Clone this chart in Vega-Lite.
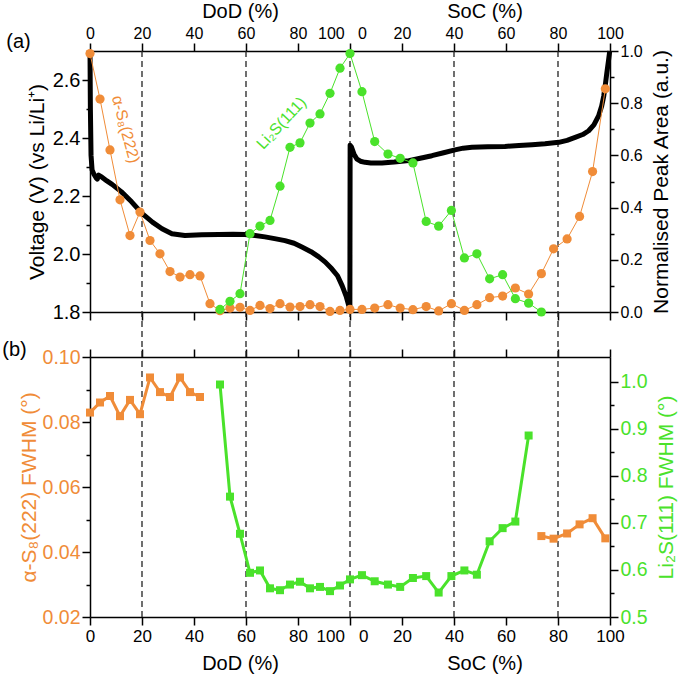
{
  "$schema": "https://vega.github.io/schema/vega-lite/v6.json",
  "padding": {"left": 1, "top": 1, "right": 1, "bottom": 1},
  "width": 520,
  "height": 566,
  "datasets": {
    "dod_lines": [{"X": 20}, {"X": 60}],
    "soc_lines": [{"X": 100}, {"X": 140}, {"X": 180}],
    "voltage": [
      {"X": 0, "V": 2.70}, {"X": 0.15, "V": 2.50}, {"X": 0.4, "V": 2.34}, {"X": 0.8, "V": 2.29},
      {"X": 1.5, "V": 2.275}, {"X": 2.4, "V": 2.262}, {"X": 2.8, "V": 2.258}, {"X": 3.3, "V": 2.272},
      {"X": 4.6, "V": 2.265}, {"X": 6.5, "V": 2.252}, {"X": 8.5, "V": 2.24}, {"X": 12, "V": 2.215},
      {"X": 16, "V": 2.18}, {"X": 20, "V": 2.14}, {"X": 24, "V": 2.11}, {"X": 27.7, "V": 2.087},
      {"X": 31.5, "V": 2.07}, {"X": 36.5, "V": 2.064}, {"X": 43, "V": 2.066}, {"X": 49.6, "V": 2.067},
      {"X": 55, "V": 2.068}, {"X": 59.6, "V": 2.067}, {"X": 63.5, "V": 2.064}, {"X": 67.3, "V": 2.059},
      {"X": 71, "V": 2.053}, {"X": 75, "V": 2.046}, {"X": 78.5, "V": 2.037}, {"X": 81.5, "V": 2.024},
      {"X": 85, "V": 2.008}, {"X": 88, "V": 1.99}, {"X": 90.5, "V": 1.972}, {"X": 93, "V": 1.949},
      {"X": 95.2, "V": 1.925}, {"X": 97, "V": 1.89}, {"X": 98.5, "V": 1.855}, {"X": 99.6, "V": 1.82},
      {"X": 99.95, "V": 1.805}, {"X": 100.05, "V": 2.375}, {"X": 100.5, "V": 2.37}, {"X": 101.5, "V": 2.345},
      {"X": 102.7, "V": 2.327}, {"X": 104, "V": 2.32}, {"X": 105.8, "V": 2.316}, {"X": 108, "V": 2.314},
      {"X": 112.3, "V": 2.314}, {"X": 117, "V": 2.317}, {"X": 122.6, "V": 2.322}, {"X": 127, "V": 2.33},
      {"X": 131.5, "V": 2.339}, {"X": 136, "V": 2.349}, {"X": 140.4, "V": 2.359}, {"X": 143.5, "V": 2.365},
      {"X": 146.9, "V": 2.368}, {"X": 153, "V": 2.37}, {"X": 159.6, "V": 2.371}, {"X": 165, "V": 2.374},
      {"X": 170, "V": 2.377}, {"X": 175, "V": 2.38}, {"X": 180.3, "V": 2.385}, {"X": 183.5, "V": 2.392},
      {"X": 186.6, "V": 2.402}, {"X": 189.5, "V": 2.412}, {"X": 191.8, "V": 2.425}, {"X": 193.8, "V": 2.445},
      {"X": 195.6, "V": 2.476}, {"X": 196.8, "V": 2.51}, {"X": 197.6, "V": 2.545}, {"X": 198.3, "V": 2.59},
      {"X": 198.8, "V": 2.626}, {"X": 199.4, "V": 2.665}, {"X": 199.9, "V": 2.70}
    ],
    "peak": [
      {"X": 0, "A": 0.99, "phase": "S8"}, {"X": 3.85, "A": 0.816, "phase": "S8"}, {"X": 7.69, "A": 0.621, "phase": "S8"},
      {"X": 11.54, "A": 0.43, "phase": "S8"}, {"X": 15.38, "A": 0.293, "phase": "S8"}, {"X": 19.23, "A": 0.383, "phase": "S8"},
      {"X": 23.08, "A": 0.274, "phase": "S8"}, {"X": 26.92, "A": 0.223, "phase": "S8"}, {"X": 30.77, "A": 0.155, "phase": "S8"},
      {"X": 34.62, "A": 0.134, "phase": "S8"}, {"X": 38.46, "A": 0.143, "phase": "S8"}, {"X": 42.31, "A": 0.138, "phase": "S8"},
      {"X": 46.15, "A": 0.032, "phase": "S8"}, {"X": 50.0, "A": 0.005, "phase": "S8"}, {"X": 53.85, "A": 0.015, "phase": "S8"},
      {"X": 57.69, "A": 0.018, "phase": "S8"}, {"X": 61.54, "A": 0.006, "phase": "S8"}, {"X": 65.38, "A": 0.025, "phase": "S8"},
      {"X": 69.23, "A": 0.013, "phase": "S8"}, {"X": 73.08, "A": 0.032, "phase": "S8"}, {"X": 76.92, "A": 0.019, "phase": "S8"},
      {"X": 80.77, "A": 0.021, "phase": "S8"}, {"X": 84.62, "A": 0.028, "phase": "S8"}, {"X": 88.46, "A": 0.021, "phase": "S8"},
      {"X": 92.31, "A": 0.002, "phase": "S8"}, {"X": 96.15, "A": 0.006, "phase": "S8"}, {"X": 100, "A": 0.01, "phase": "S8"},
      {"X": 104.6, "A": 0.01, "phase": "S8"}, {"X": 109.5, "A": 0.015, "phase": "S8"}, {"X": 114.6, "A": 0.028, "phase": "S8"},
      {"X": 119.3, "A": 0.015, "phase": "S8"}, {"X": 124.2, "A": 0.009, "phase": "S8"}, {"X": 129.3, "A": 0.021, "phase": "S8"},
      {"X": 134.1, "A": 0.004, "phase": "S8"}, {"X": 139.0, "A": 0.032, "phase": "S8"}, {"X": 144.0, "A": 0.006, "phase": "S8"},
      {"X": 148.8, "A": 0.028, "phase": "S8"}, {"X": 153.7, "A": 0.055, "phase": "S8"}, {"X": 158.7, "A": 0.061, "phase": "S8"},
      {"X": 163.6, "A": 0.092, "phase": "S8"}, {"X": 168.7, "A": 0.069, "phase": "S8"}, {"X": 173.6, "A": 0.147, "phase": "S8"},
      {"X": 178.3, "A": 0.242, "phase": "S8"}, {"X": 183.5, "A": 0.28, "phase": "S8"}, {"X": 188.3, "A": 0.366, "phase": "S8"},
      {"X": 193.3, "A": 0.538, "phase": "S8"}, {"X": 198.2, "A": 0.855, "phase": "S8"},
      {"X": 50.0, "A": 0.01, "phase": "Li2S"}, {"X": 53.85, "A": 0.041, "phase": "Li2S"}, {"X": 57.69, "A": 0.07, "phase": "Li2S"},
      {"X": 61.54, "A": 0.30, "phase": "Li2S"}, {"X": 65.38, "A": 0.329, "phase": "Li2S"}, {"X": 69.23, "A": 0.351, "phase": "Li2S"},
      {"X": 73.08, "A": 0.482, "phase": "Li2S"}, {"X": 76.92, "A": 0.631, "phase": "Li2S"}, {"X": 80.77, "A": 0.648, "phase": "Li2S"},
      {"X": 84.62, "A": 0.724, "phase": "Li2S"}, {"X": 88.46, "A": 0.759, "phase": "Li2S"}, {"X": 92.31, "A": 0.838, "phase": "Li2S"},
      {"X": 96.15, "A": 0.934, "phase": "Li2S"}, {"X": 100, "A": 0.99, "phase": "Li2S"}, {"X": 104.6, "A": 0.844, "phase": "Li2S"},
      {"X": 109.5, "A": 0.653, "phase": "Li2S"}, {"X": 114.6, "A": 0.605, "phase": "Li2S"}, {"X": 119.3, "A": 0.589, "phase": "Li2S"},
      {"X": 124.2, "A": 0.571, "phase": "Li2S"}, {"X": 129.3, "A": 0.347, "phase": "Li2S"}, {"X": 134.1, "A": 0.329, "phase": "Li2S"},
      {"X": 139.0, "A": 0.389, "phase": "Li2S"}, {"X": 144.0, "A": 0.207, "phase": "Li2S"}, {"X": 148.8, "A": 0.223, "phase": "Li2S"},
      {"X": 153.7, "A": 0.127, "phase": "Li2S"}, {"X": 158.7, "A": 0.143, "phase": "Li2S"}, {"X": 163.6, "A": 0.051, "phase": "Li2S"},
      {"X": 168.7, "A": 0.034, "phase": "Li2S"}, {"X": 173.6, "A": 0.0, "phase": "Li2S"}
    ],
    "fwhm": [
      {"X": 0, "W": 0.0829, "phase": "S8", "seg": "discharge"}, {"X": 3.85, "W": 0.086, "phase": "S8", "seg": "discharge"},
      {"X": 7.69, "W": 0.088, "phase": "S8", "seg": "discharge"}, {"X": 11.54, "W": 0.0818, "phase": "S8", "seg": "discharge"},
      {"X": 15.38, "W": 0.0868, "phase": "S8", "seg": "discharge"}, {"X": 19.23, "W": 0.0824, "phase": "S8", "seg": "discharge"},
      {"X": 23.08, "W": 0.0937, "phase": "S8", "seg": "discharge"}, {"X": 26.92, "W": 0.0892, "phase": "S8", "seg": "discharge"},
      {"X": 30.77, "W": 0.0877, "phase": "S8", "seg": "discharge"}, {"X": 34.62, "W": 0.0937, "phase": "S8", "seg": "discharge"},
      {"X": 38.46, "W": 0.0892, "phase": "S8", "seg": "discharge"}, {"X": 42.31, "W": 0.0877, "phase": "S8", "seg": "discharge"},
      {"X": 173.6, "W": 0.0449, "phase": "S8", "seg": "charge"}, {"X": 178.3, "W": 0.0441, "phase": "S8", "seg": "charge"},
      {"X": 183.5, "W": 0.0457, "phase": "S8", "seg": "charge"}, {"X": 188.3, "W": 0.0485, "phase": "S8", "seg": "charge"},
      {"X": 193.3, "W": 0.0504, "phase": "S8", "seg": "charge"}, {"X": 198.2, "W": 0.0442, "phase": "S8", "seg": "charge"},
      {"X": 50.0, "W": 0.9945, "phase": "Li2S", "seg": "all"}, {"X": 53.85, "W": 0.756, "phase": "Li2S", "seg": "all"},
      {"X": 57.69, "W": 0.677, "phase": "Li2S", "seg": "all"}, {"X": 61.54, "W": 0.594, "phase": "Li2S", "seg": "all"},
      {"X": 65.38, "W": 0.599, "phase": "Li2S", "seg": "all"}, {"X": 69.23, "W": 0.561, "phase": "Li2S", "seg": "all"},
      {"X": 73.08, "W": 0.557, "phase": "Li2S", "seg": "all"}, {"X": 76.92, "W": 0.569, "phase": "Li2S", "seg": "all"},
      {"X": 80.77, "W": 0.575, "phase": "Li2S", "seg": "all"}, {"X": 84.62, "W": 0.561, "phase": "Li2S", "seg": "all"},
      {"X": 88.46, "W": 0.564, "phase": "Li2S", "seg": "all"}, {"X": 92.31, "W": 0.555, "phase": "Li2S", "seg": "all"},
      {"X": 96.15, "W": 0.567, "phase": "Li2S", "seg": "all"}, {"X": 100, "W": 0.58, "phase": "Li2S", "seg": "all"},
      {"X": 104.6, "W": 0.589, "phase": "Li2S", "seg": "all"}, {"X": 109.5, "W": 0.576, "phase": "Li2S", "seg": "all"},
      {"X": 114.6, "W": 0.569, "phase": "Li2S", "seg": "all"}, {"X": 119.3, "W": 0.564, "phase": "Li2S", "seg": "all"},
      {"X": 124.2, "W": 0.583, "phase": "Li2S", "seg": "all"}, {"X": 129.3, "W": 0.587, "phase": "Li2S", "seg": "all"},
      {"X": 134.1, "W": 0.552, "phase": "Li2S", "seg": "all"}, {"X": 139.0, "W": 0.587, "phase": "Li2S", "seg": "all"},
      {"X": 144.0, "W": 0.599, "phase": "Li2S", "seg": "all"}, {"X": 148.8, "W": 0.59, "phase": "Li2S", "seg": "all"},
      {"X": 153.7, "W": 0.661, "phase": "Li2S", "seg": "all"}, {"X": 158.7, "W": 0.689, "phase": "Li2S", "seg": "all"},
      {"X": 163.6, "W": 0.703, "phase": "Li2S", "seg": "all"}, {"X": 168.7, "W": 0.886, "phase": "Li2S", "seg": "all"}
    ]
  },
  "layer": [
    {
      "data": {"name": "dod_lines"},
      "mark": {"type": "rule", "color": "#222", "strokeWidth": 1.3, "strokeDash": [6, 4]},
      "encoding": {
        "x": {
          "field": "X", "type": "quantitative",
          "scale": {"domain": [0, 200], "nice": false, "zero": false},
          "axis": {
            "orient": "top", "values": [0, 20, 40, 60, 80, 100, 120, 140, 160, 180, 200],
            "labelExpr": "datum.value < 100 ? format(datum.value, 'd') : (datum.value == 100 ? '100\u00a0\u00a0\u00a00' : format(datum.value - 100, 'd'))",
            "labelOffset": {"condition": {"test": "datum.value == 100", "value": -8}, "value": 0},
            "labelFontSize": 16, "labelPadding": 2, "labelOverlap": false, "labelFlush": false, "tickSize": 8,
            "title": "DoD (%)", "titleFontSize": 20, "titleX": 150, "titleY": -40,
            "titleBaseline": "middle", "titleAlign": "center"
          }
        }
      }
    },
    {
      "data": {"name": "soc_lines"},
      "mark": {"type": "rule", "color": "#222", "strokeWidth": 1.3, "strokeDash": [6, 4]},
      "encoding": {
        "x": {
          "field": "X", "type": "quantitative",
          "axis": {
            "orient": "top", "domain": false, "ticks": false, "labels": false,
            "title": "SoC (%)", "titleFontSize": 20, "titleX": 394.5, "titleY": -40,
            "titleBaseline": "middle", "titleAlign": "center"
          }
        }
      }
    },
    {
      "data": {"name": "voltage"},
      "mark": {"type": "line", "color": "black", "strokeWidth": 5, "strokeJoin": "round"},
      "encoding": {
        "x": {
          "field": "X", "type": "quantitative",
          "axis": {
            "orient": "bottom", "offset": -305, "values": [0, 20, 40, 60, 80, 100, 120, 140, 160, 180, 200],
            "labels": false, "tickSize": 8,
            "title": "(a)", "titleFontSize": 20, "titleX": -72, "titleY": -271, "titleBaseline": "middle", "titleAlign": "center"
          }
        },
        "y": {
          "field": "V", "type": "quantitative",
          "scale": {"domain": [1.8, 2.7], "range": [261, 0], "nice": false, "zero": false},
          "axis": {
            "orient": "left", "values": [1.8, 1.9, 2.0, 2.1, 2.2, 2.3, 2.4, 2.5, 2.6, 2.7],
            "labelExpr": "round(datum.value * 10) % 2 == 0 ? format(datum.value, '.1f') : ''",
            "tickSize": {"condition": {"test": "round(datum.value * 10) % 2 == 1", "value": 4}, "value": 8},
            "labelFontSize": 20, "labelOverlap": false, "labelFlush": false,
            "title": "Voltage (V) (vs Li/Li⁺)", "titleFontSize": 21, "titlePadding": 5
          }
        }
      }
    },
    {
      "data": {"values": [{"label": "α-S₈(222)"}]},
      "mark": {"type": "text", "color": "#F08C38", "fontSize": 16, "angle": 75, "align": "center", "baseline": "middle"},
      "encoding": {
        "x": {"datum": 13.65, "type": "quantitative", "axis": null},
        "y": {"datum": 2.43, "type": "quantitative", "scale": {"domain": [1.8, 2.7], "range": [261, 0], "nice": false, "zero": false}, "axis": null},
        "text": {"field": "label"}
      }
    },
    {
      "data": {"values": [{"label": "Li₂S(111)"}]},
      "mark": {"type": "text", "color": "#4AE22B", "fontSize": 16, "angle": 313, "align": "center", "baseline": "middle"},
      "encoding": {
        "x": {"datum": 73.65, "type": "quantitative", "axis": null},
        "y": {"datum": 2.451, "type": "quantitative", "scale": {"domain": [1.8, 2.7], "range": [261, 0], "nice": false, "zero": false}, "axis": null},
        "text": {"field": "label"}
      }
    },
    {
      "data": {"name": "peak"},
      "mark": {"type": "line", "strokeWidth": 1},
      "encoding": {
        "x": {
          "field": "X", "type": "quantitative",
          "axis": {
            "orient": "bottom", "values": [0, 20, 40, 60, 80, 100, 120, 140, 160, 180, 200],
            "labelExpr": "datum.value < 100 ? format(datum.value, 'd') : (datum.value == 100 ? '100\u00a0\u00a0\u00a00' : format(datum.value - 100, 'd'))",
            "labelOffset": {"condition": {"test": "datum.value == 100", "value": -8}, "value": 0},
            "labelFontSize": 17, "labelPadding": 3, "labelOverlap": false, "labelFlush": false, "tickSize": 8,
            "title": "DoD (%)", "titleFontSize": 20, "titleX": 150, "titleY": 46,
            "titleBaseline": "middle", "titleAlign": "center"
          }
        },
        "y": {
          "field": "A", "type": "quantitative",
          "scale": {"domain": [0, 1], "range": [261, 0], "nice": false},
          "axis": {
            "orient": "right", "values": [0, 0.1, 0.2, 0.3, 0.4, 0.5, 0.6, 0.7, 0.8, 0.9, 1.0],
            "labelExpr": "round(datum.value * 10) % 2 == 0 ? format(datum.value, '.1f') : ''",
            "tickSize": {"condition": {"test": "round(datum.value * 10) % 2 == 1", "value": 4}, "value": 8},
            "labelFontSize": 16, "labelOverlap": false, "labelFlush": false,
            "title": "Normalised Peak Area (a.u.)", "titleFontSize": 21, "titleAngle": 270, "titleBaseline": "top", "titlePadding": 8
          }
        },
        "color": {
          "field": "phase", "type": "nominal",
          "scale": {"domain": ["S8", "Li2S"], "range": ["#F08C38", "#4AE22B"]},
          "legend": null
        }
      }
    },
    {
      "data": {"name": "peak"},
      "mark": {"type": "point", "filled": true, "size": 85, "opacity": 1},
      "encoding": {
        "x": {
          "field": "X", "type": "quantitative",
          "axis": {
            "orient": "bottom", "domain": false, "ticks": false, "labels": false,
            "title": "SoC (%)", "titleFontSize": 20, "titleX": 394.5, "titleY": 46,
            "titleBaseline": "middle", "titleAlign": "center"
          }
        },
        "y": {"field": "A", "type": "quantitative", "scale": {"domain": [0, 1], "range": [261, 0], "nice": false}, "axis": null},
        "color": {"field": "phase", "type": "nominal", "legend": null}
      }
    },
    {
      "data": {"name": "fwhm"},
      "transform": [{"filter": "datum.phase == 'S8'"}],
      "mark": {"type": "line", "color": "#F08C38", "strokeWidth": 3},
      "encoding": {
        "x": {
          "field": "X", "type": "quantitative",
          "axis": {
            "orient": "top", "offset": -306, "values": [0, 20, 40, 60, 80, 100, 120, 140, 160, 180, 200],
            "labels": false, "tickSize": 8,
            "title": "(b)", "titleFontSize": 20, "titleX": -76, "titleY": -8, "titleBaseline": "middle", "titleAlign": "center"
          }
        },
        "y": {
          "field": "W", "type": "quantitative",
          "scale": {"domain": [0.02, 0.1], "range": [566, 306], "nice": false, "zero": false},
          "axis": {
            "orient": "left", "values": [0.02, 0.03, 0.04, 0.05, 0.06, 0.07, 0.08, 0.09, 0.1],
            "labelExpr": "round(datum.value * 100) % 2 == 0 ? format(datum.value, '.2f') : ''",
            "tickSize": {"condition": {"test": "round(datum.value * 100) % 2 == 1", "value": 4}, "value": 8},
            "labelFontSize": 19.5, "labelColor": "#F08C38", "labelOverlap": false, "labelFlush": false,
            "title": "α-S₈(222) FWHM (°)", "titleColor": "#F08C38", "titleFontSize": 21, "titlePadding": 3
          }
        },
        "detail": {"field": "seg", "type": "nominal"}
      }
    },
    {
      "data": {"name": "fwhm"},
      "transform": [{"filter": "datum.phase == 'S8'"}],
      "mark": {"type": "square", "color": "#F08C38", "size": 64, "opacity": 1},
      "encoding": {
        "x": {"field": "X", "type": "quantitative", "axis": null},
        "y": {"field": "W", "type": "quantitative", "scale": {"domain": [0.02, 0.1], "range": [566, 306], "nice": false, "zero": false}, "axis": null}
      }
    },
    {
      "data": {"name": "fwhm"},
      "transform": [{"filter": "datum.phase == 'Li2S'"}],
      "mark": {"type": "line", "color": "#4AE22B", "strokeWidth": 3},
      "encoding": {
        "x": {"field": "X", "type": "quantitative", "axis": null},
        "y": {
          "field": "W", "type": "quantitative",
          "scale": {"domain": [0.5, 1.053], "range": [566, 306], "nice": false, "zero": false},
          "axis": {
            "orient": "right", "values": [0.5, 0.55, 0.6, 0.65, 0.7, 0.75, 0.8, 0.85, 0.9, 0.95, 1.0],
            "labelExpr": "round(datum.value * 100) % 10 == 0 ? format(datum.value, '.1f') : ''",
            "tickSize": {"condition": {"test": "round(datum.value * 100) % 10 != 0", "value": 4}, "value": 8},
            "labelFontSize": 19.5, "labelColor": "#4AE22B", "labelOverlap": false, "labelFlush": false,
            "title": "Li₂S(111) FWHM (°)", "titleColor": "#4AE22B", "titleFontSize": 21, "titleAngle": 270, "titleBaseline": "top", "titlePadding": 8
          }
        }
      }
    },
    {
      "data": {"name": "fwhm"},
      "transform": [{"filter": "datum.phase == 'Li2S'"}],
      "mark": {"type": "square", "color": "#4AE22B", "size": 64, "opacity": 1},
      "encoding": {
        "x": {"field": "X", "type": "quantitative", "axis": null},
        "y": {"field": "W", "type": "quantitative", "scale": {"domain": [0.5, 1.053], "range": [566, 306], "nice": false, "zero": false}, "axis": null}
      }
    }
  ],
  "resolve": {"scale": {"y": "independent"}, "axis": {"x": "independent", "y": "independent"}},
  "config": {
    "font": "Liberation Sans",
    "view": {"stroke": null},
    "axis": {
      "grid": false, "domainColor": "black", "domainWidth": 1.5, "tickColor": "black", "tickWidth": 1.5,
      "labelColor": "black", "titleColor": "black", "titleFontWeight": "normal",
      "labelFont": "Liberation Sans", "titleFont": "Liberation Sans"
    }
  }
}
